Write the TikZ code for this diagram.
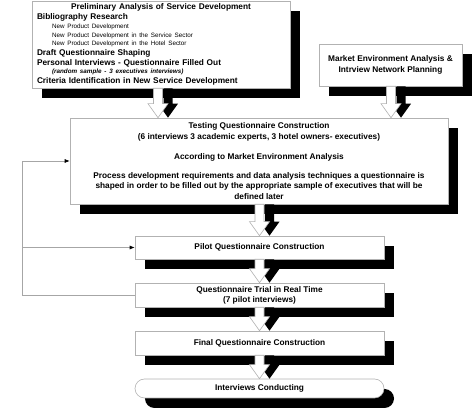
\documentclass[tikz,border=0pt]{standalone}
\usepackage{fontspec}
\setmainfont{Liberation Sans}
\usetikzlibrary{arrows.meta,positioning,calc,shadows}

\newcommand{\subline}{\fontsize{6.3}{8}\selectfont\mdseries}
\newcommand{\noteline}{\fontsize{6.3}{8}\selectfont\bfseries\itshape}

% fat white arrow from the bottom of #2 to the top of #3, at x = #1
\newcommand{\flowarrow}[3]{%
  \path[flowarr] let \p1=(#1,0 |- #2.south), \p2=(#1,0 |- #3.north) in
    (\x1-4.5pt,\y1) -- (\x1-4.5pt,\y2+14pt) -- (\x1-10pt,\y2+14pt) -- (\x1,\y2)
    -- (\x1+10pt,\y2+14pt) -- (\x1+4.5pt,\y2+14pt) -- (\x1+4.5pt,\y1) -- cycle;}

\begin{document}
\begin{tikzpicture}[
    x=1pt, y=1pt,
    box/.style={draw=gray!60, line width=0.6pt, fill=white, align=center, inner sep=0pt,
      font=\fontsize{8.3}{10}\selectfont\bfseries,
      drop shadow={shadow xshift=10pt, shadow yshift=-10pt, fill=black, opacity=1}},
    flowarr/.style={draw=gray!60, line width=0.6pt, fill=white,
      drop shadow={shadow xshift=10pt, shadow yshift=0pt, fill=black, opacity=1}},
    loopline/.style={draw=gray!70, line width=0.6pt, -{Latex[length=5pt, width=4pt, color=black]}}
  ]
  \useasboundingbox (0,0) rectangle (474,409);

  \node[box, text width=248pt, inner xsep=5pt, minimum height=87pt, align=left,
        font=\fontsize{8.3}{9.6}\selectfont\bfseries] (prelim) at (161,364.5) {%
    \makebox[\hsize]{Preliminary Analysis of Service Development}\\
    Bibliography Research\\[-0.8pt]
    {\subline\hspace*{15pt}New Product Development}\\[-0.8pt]
    {\subline\hspace*{15pt}New Product Development in the Service Sector}\\[-0.8pt]
    {\subline\hspace*{15pt}New Product Development in the Hotel Sector}\\
    Draft Questionnaire Shaping\\
    Personal Interviews - Questionnaire Filled Out\\[-0.8pt]
    {\noteline\hspace*{15pt}(random sample - 3 executives interviews)}\\
    Criteria Identification in New Service Development};

  \node[box, minimum width=143pt, minimum height=42pt,
        font=\fontsize{8.3}{11.5}\selectfont\bfseries] (market) at (390.5,344)
    {Market Environment Analysis \&\\Intrview Network Planning};

  \node[box, minimum width=378pt, minimum height=86pt,
        font=\fontsize{8.3}{10.3}\selectfont\bfseries] (testing) at (259,248) {%
    Testing Questionnaire Construction\\
    (6 interviews 3 academic experts, 3 hotel owners- executives)\\[10.3pt]
    According to Market Environment Analysis\\[8.5pt]
    Process development requirements and data analysis techniques a questionnaire is\\
    shaped in order to be filled out by the appropriate sample of executives that will be\\
    defined later};

  \node[box, minimum width=249pt, minimum height=23pt] (pilot) at (259.5,161.5)
    {Pilot Questionnaire Construction};
  \node[box, minimum width=249pt, minimum height=24pt] (trial) at (259.5,114)
    {Questionnaire Trial in Real Time\\(7 pilot interviews)};
  \node[box, minimum width=249pt, minimum height=24pt] (final) at (259.5,66)
    {Final Questionnaire Construction};
  \node[box, minimum width=249pt, minimum height=19pt, rounded corners=9.5pt] (conduct) at (259.5,20.5)
    {Interviews Conducting};

  \flowarrow{158}{prelim}{testing}
  \flowarrow{391}{market}{testing}
  \flowarrow{259.5}{testing}{pilot}
  \flowarrow{259.5}{pilot}{trial}
  \flowarrow{259.5}{trial}{final}
  \flowarrow{259.5}{final}{conduct}

  \coordinate (back) at (22,0);
  \draw[loopline] (trial.west) -- (trial.west -| back) |- (testing.west);
  \draw[loopline] (pilot.west -| back) -- (pilot.west);
\end{tikzpicture}
\end{document}
